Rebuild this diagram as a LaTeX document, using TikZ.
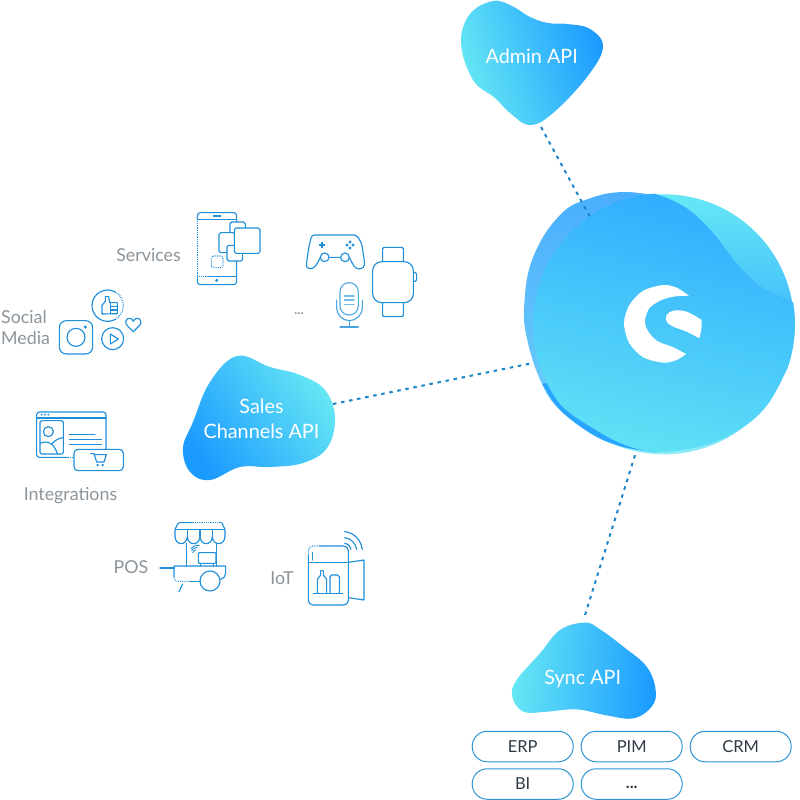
\documentclass[tikz,border=0pt]{standalone}
\usepackage{fontspec}
\setmainfont{Lato}
\definecolor{cyanl}{HTML}{66E8F4}
\definecolor{bluer}{HTML}{1C9BFF}
\definecolor{icon}{HTML}{1E8FD8}
\definecolor{dashc}{HTML}{1A86C8}
\definecolor{greyt}{HTML}{8C959C}
\definecolor{pillc}{HTML}{2D95D4}
\definecolor{darkt}{HTML}{2E3A47}
\definecolor{coreTop}{HTML}{2EAAFF}
\definecolor{coreBot}{HTML}{60E2F5}
\definecolor{backTop}{HTML}{66E8F6}
\definecolor{backMid}{HTML}{3FBAFB}
\definecolor{backBot}{HTML}{8EECF6}
\definecolor{bandTop}{HTML}{4AAEFD}
\definecolor{bandBot}{HTML}{74D2FA}
\definecolor{crescent}{HTML}{2AA5FF}
\tikzset{
 zoomat/.style 2 args={xshift=#1pt,yshift=-#2pt,x=0.33333pt,y=-0.33333pt},
 apilabel/.style={text=white,font=\fontsize{19.8}{24.5}\selectfont,align=center},
 greylabel/.style={text=greyt,font=\fontsize{17.8}{22}\selectfont,align=left,inner sep=0pt},
 link/.style={draw=dashc,line width=2pt,dash pattern=on 3.5pt off 4.7pt},
 ico/.style={draw=icon,line width=1.15pt,line cap=round,line join=round},
 icodot/.style={ico,dash pattern=on 0.8pt off 1pt,line cap=butt},
 pill/.style={draw=pillc,line width=1pt,rounded corners=15pt,minimum width=101pt,minimum height=30.5pt,text=darkt,font=\fontsize{16.5}{20}\selectfont,inner sep=0pt},
}
\begin{document}
\begin{tikzpicture}[x=1pt,y=-1pt]
\useasboundingbox (0,0) rectangle (800,800);
\fill[white] (0,0) rectangle (800,800);
% connector end points
\coordinate (adminPort) at (541,127);
\coordinate (corePortA) at (590,217);
\coordinate (salesPort) at (333,404);
\coordinate (corePortB) at (533,363);
\coordinate (syncPort) at (585,615);
\coordinate (corePortC) at (636,452);
% core: back layers
\begin{scope}[zoomat={510}{180}]
 \shade[top color=backTop,bottom color=backBot,middle color=backMid] (462,433) circle (390);
 \shade[top color=bandTop,bottom color=bandBot]
   plot[smooth,tension=.7] coordinates {(440,48) (340,36) (240,55) (150,105) (70,230) (43,370) (52,480) (95,610) (150,690) (250,765) (340,801) (440,817)} -- cycle;
 \fill[crescent] plot[smooth] coordinates {(97,612) (150,690) (250,765) (340,801) (440,817)} -- (440,700) -- (150,600) -- cycle;
\end{scope}
\draw[link] (adminPort) -- (corePortA);
\draw[link] (salesPort) -- (corePortB);
\draw[link] (syncPort) -- (corePortC);
\begin{scope}[zoomat={510}{180}]
 \begin{scope}
  \clip (462,433) circle (393);
  \shade[top color=coreTop,bottom color=coreBot,shading angle=-14]
   plot[smooth cycle,tension=.62] coordinates {(30,430) (50,270) (130,140) (230,70) (340,30) (430,40) (530,85) (610,160) (680,250) (760,325) (880,385) (885,450) (835,560) (760,690) (650,770) (540,806) (430,815) (340,793) (255,748) (162,684) (100,602) (60,510)};
 \end{scope}
 \fill[white] plot[smooth] coordinates {(537,347) (500,323) (460,315) (400,332) (358,375) (342,430) (358,490) (400,532) (460,548) (500,540) (528,522)}
   -- plot[smooth] coordinates {(528,522) (490,502) (440,482) (412,450) (405,420) (418,385) (450,362) (490,350) (537,347)} -- cycle;
 \fill[white] plot[smooth,tension=.6] coordinates {(568,475) (530,455) (490,440) (470,425) (470,405) (490,392) (530,395) (575,420)}
   -- plot[smooth] coordinates {(575,420) (574,448) (568,475)} -- cycle;
\end{scope}
% API blobs
\shade[left color=cyanl,right color=bluer,shading angle=108]
  plot[smooth cycle,tension=.65] coordinates {(493,1) (512,6) (530,17) (548,23) (567,24) (590,29) (603,47) (587,77) (553,113) (530,125) (510,113) (495,98) (473,80) (461,43) (470,14)};
\node[apilabel] (admin) at (531.7,56) {Admin API};
\shade[left color=bluer,right color=cyanl,shading angle=125]
  plot[smooth cycle,tension=.65] coordinates {(237,356) (270,367) (300,375) (325,390) (335,418) (327,448) (303,463) (270,467) (240,467) (210,480) (190,472) (183,448) (193,422) (210,382)};
\node[apilabel] (sales) at (261.5,419) {Sales\\Channels API};
\begin{scope}[zoomat={460}{610}]
 \shade[left color=cyanl,right color=bluer,shading angle=85]
  plot[smooth cycle,tension=.65] coordinates {(375,38) (300,60) (240,130) (170,210) (157,260) (190,305) (260,305) (350,298) (440,316) (520,325) (575,290) (587,240) (560,170) (490,110) (420,58)};
\end{scope}
\node[apilabel] (sync) at (582.7,679) {Sync API};
% pills
\node[pill] (erp) at (522.7,746.5) {ERP};
\node[pill] (pim) at (631.7,746.5) {PIM};
\node[pill] (crm) at (740.7,746.5) {CRM};
\node[pill] (bi) at (522.7,784) {BI};
\node[pill] (more) at (631.7,784) {\smash{\raisebox{-4pt}{\bfseries ...}}};
% grey labels
\node[greylabel] (services) at (148.5,255) {Services};
\node[greylabel,anchor=west] (social) at (1,328) {Social\\[-1pt]Media};
\node[greylabel] (integrations) at (70.5,495.5) {Integrations};
\node[greylabel] (pos) at (131,567.5) {POS};
\node[greylabel] (iot) at (282,578.5) {IoT};
\node[greylabel,font=\fontsize{13}{14}\bfseries] (dots) at (299,314) {...};
% social icons
\begin{scope}[zoomat={0}{200}]
 \draw[ico,rounded corners=7pt] (178,362) rectangle (278,462);
 \draw[ico] (228,412) circle (27);
 \fill[icon] (256,381) circle (5);
 \draw[ico] (323,317) ++(60:47) arc[start angle=60,end angle=300,radius=47];
 \draw[icodot] (323,317) ++(-60:47) arc[start angle=-60,end angle=60,radius=47];
 \draw[ico] (306,342) -- (306,316) -- (316,304) -- (316,290) -- (326,290) -- (329,308) -- (352,308) -- (352,341) -- cycle;
 \draw[ico] (332,308) -- (332,341) (332,319) -- (352,319) (332,330) -- (352,330);
 \draw[ico] (338,416) circle (33);
 \draw[ico] (331,402) -- (355,417) -- (331,432) -- cycle;
 \draw[ico] (400,395) -- (381,376) .. controls (368,358) and (392,345) .. (400,364) .. controls (408,345) and (432,358) .. (419,376) -- cycle;
\end{scope}
% phone icon
\begin{scope}[zoomat={180}{200}]
 \draw[ico,rounded corners=3pt] (52,58) -- (52,38) -- (170,38) -- (170,254) -- (52,254) -- (52,235);
 \draw[icodot] (52,58) -- (52,235) (52,230) -- (84,230);
 \draw[ico] (52,58) -- (170,58) (84,230) -- (170,230);
 \draw[icon,line width=1.8pt] (98,48) -- (122,48);
 \fill[icon] (110,241) circle (5);
 \draw[ico,fill=white,rounded corners=1.7pt] (150,66) rectangle (196,120);
 \draw[ico,fill=white,rounded corners=1.7pt] (117,98) rectangle (165,158);
 \draw[ico,fill=white,rounded corners=1.7pt] (141,136) rectangle (188,183);
 \draw[ico,fill=white,rounded corners=1.7pt] (163,84) rectangle (240,160);
 \draw[icodot,rounded corners=1.5pt] (94,168) rectangle (129,203);
% gamepad
 \draw[ico,rounded corners=3pt] (421,172) -- (410,195) -- (395,208) -- (378,203) -- (385,150) -- (395,105) -- (530,105) -- (545,130) -- (555,195) -- (545,208) -- (525,205) -- (508,172);
 \draw[ico] (434,172) circle (13) (495,172) circle (13) (450,172) -- (479,172);
 \draw[icon,line width=2.2pt] (416,135) -- (435,135) (425.5,125) -- (425.5,145);
 \foreach \p in {(510,126),(510,144),(501,135),(519,135)} \fill[icon] \p circle (5);
% watch
 \draw[ico,rounded corners=1.3pt] (608,185) -- (608,142) -- (670,142) -- (670,185);
 \draw[ico,rounded corners=1.3pt] (608,308) -- (608,350) -- (670,350) -- (670,308);
 \draw[ico,rounded corners=2pt] (700,218) -- (710,218) -- (710,244) -- (700,244);
 \draw[ico,rounded corners=9pt] (578,185) rectangle (700,308);
% mic
 \draw[ico,draw=icon!75!white,rounded corners=9pt] (480,248) rectangle (535,345);
 \draw[ico,draw=icon!60!white] (493,288) -- (522,288) (493,300) -- (522,300) (493,313) -- (522,313);
 \draw[ico,draw=icon!80!white] (470,300) -- (470,322) .. controls (470,345) and (488,362) .. (508,362) .. controls (528,362) and (547,345) .. (547,322) -- (547,300);
 \draw[ico,draw=icon!80!white] (508,362) -- (508,381) (480,381) -- (535,381);
\end{scope}
% integrations icon
\begin{scope}[zoomat={20}{400}]
 \draw[ico,rounded corners=2.7pt] (140,172) -- (50,172) -- (50,36) -- (258,36) -- (258,148);
 \draw[icodot] (140,172) -- (162,172);
 \draw[ico] (50,54) -- (258,54);
 \foreach \x in {65,75,85} \fill[icon] (\x,44) circle (3);
 \draw[ico,fill=white,rounded corners=4pt] (162,148) rectangle (310,212);
 \draw[ico,rounded corners=2pt] (60,62) rectangle (130,162);
 \draw[ico] (85,95) circle (15);
 \draw[ico] (60,130) .. controls (85,118) and (105,135) .. (112,162) (95,132) .. controls (105,120) and (118,114) .. (130,113);
 \draw[ico] (148,103) -- (225,103) (148,118) -- (245,118) (148,133) -- (245,133);
 \draw[ico] (212,161) -- (222,161) -- (230,186) -- (252,186) -- (259,164) -- (222,164);
 \fill[icon] (233,195) circle (4) (248,195) circle (4);
\end{scope}
% POS icon
\begin{scope}[zoomat={110}{510}]
 \draw[ico,rounded corners=1.5pt] (195,80) -- (195,58) -- (205,38) -- (245,38);
 \draw[icodot] (245,38) -- (335,38);
 \draw[ico,rounded corners=1.5pt] (335,38) -- (345,58) -- (345,80);
 \draw[ico] (195,58) -- (345,58) (232,58) -- (232,80) (270,58) -- (270,80) (307,58) -- (307,80);
 \draw[ico] (195,80) .. controls (197,108) and (230,108) .. (232,80) .. controls (234,108) and (268,108) .. (270,80) .. controls (272,108) and (305,108) .. (307,80) .. controls (309,108) and (343,108) .. (345,80);
 \draw[ico] (230,100) -- (230,168) (320,100) -- (320,168);
 \draw[ico] (150,174) -- (192,174);
 \draw[ico] (192,200) -- (192,168) -- (347,168) -- (347,190) .. controls (347,200) and (340,205) .. (332,208);
 \draw[icodot] (192,200) .. controls (192,210) and (197,214) .. (208,214) -- (240,214);
 \draw[ico] (240,214) -- (270,214);
 \draw[ico] (300,213) circle (30);
 \draw[ico] (218,222) -- (207,245);
 \draw[ico,rounded corners=1pt] (265,128) rectangle (318,160);
 \draw[ico] (272,160) -- (272,168) (311,160) -- (311,168);
 \draw[ico,line width=.9pt] (248,128) .. controls (250,124) and (253,121) .. (258,120)
   (245,122) .. controls (248,116) and (254,113) .. (262,112)
   (243,116) .. controls (247,109) and (256,105) .. (268,106);
% fridge
 \draw[ico,rounded corners=4.7pt] (595,135) -- (595,285) -- (715,285) -- (715,108) -- (630,108);
 \draw[icodot,rounded corners=4.7pt] (630,108) -- (595,108) -- (595,135);
 \draw[ico] (595,157) -- (715,157);
 \draw[ico] (608,128) -- (608,150);
 \draw[ico] (715,157) -- (762,150) -- (762,270) -- (715,263);
 \draw[ico] (610,250) -- (698,250);
 \draw[ico] (622,248) -- (622,208) -- (632,195) -- (632,182) -- (640,182) -- (640,195) -- (650,208) -- (650,248);
 \draw[ico,rounded corners=1.7pt] (660,248) -- (660,195) -- (688,195) -- (688,248);
 \draw[ico] (704,100) .. controls (715,102) and (720,108) .. (723,118)
   (704,83) .. controls (722,85) and (736,98) .. (740,118)
   (704,65) .. controls (732,68) and (752,88) .. (757,118);
\end{scope}
\end{tikzpicture}
\end{document}
